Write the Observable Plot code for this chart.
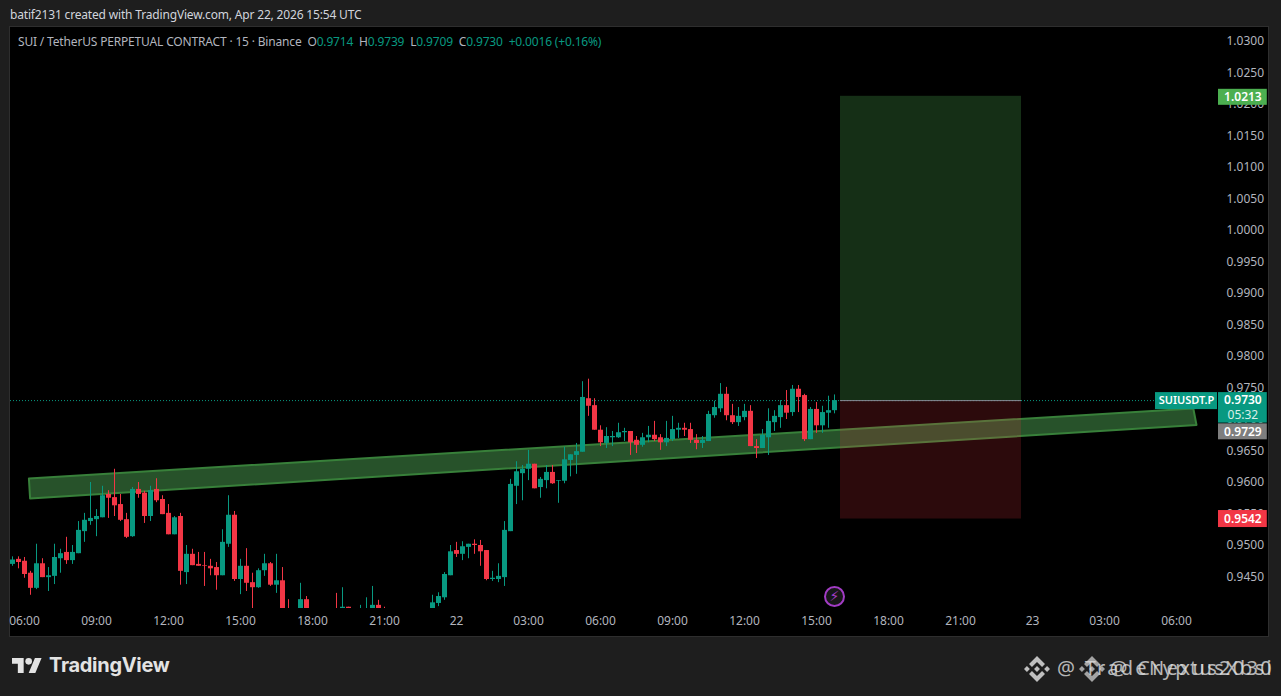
<!DOCTYPE html>
<html><head><meta charset="utf-8">
<script src="https://cdn.jsdelivr.net/npm/d3@7"></script>
<script src="https://cdn.jsdelivr.net/npm/@observablehq/plot@0.6"></script>
<style>
html,body{margin:0;padding:0;background:#1e1e1e;width:1281px;height:696px;overflow:hidden;font-family:"Noto Sans",sans-serif}
.abs{position:absolute;white-space:nowrap}
#panel{left:10px;top:27px;width:1258px;height:609px;background:#000;box-shadow:0 0 0 1px #2e2e2e}
#plot{left:0;top:0}
#made{left:10px;top:6px;font-size:12px;color:#d1d4dc;letter-spacing:-.17px}
#legend{left:18px;top:33px;font-size:12px;color:#b2b5be;letter-spacing:-.17px}
#legend b{font-weight:400;color:#089981}
#brand{left:49px;top:653px;font:700 20px "Inter",sans-serif;color:#e3e3e3;letter-spacing:-.3px}
.wm{font-size:20px;color:#dcdcdc;opacity:.8;letter-spacing:2.3px}
</style></head><body>
<div class="abs" id="panel"></div>
<div class="abs" id="plot"></div>
<div class="abs" id="made">batif2131 created with TradingView.com, Apr 22, 2026 15:54 UTC</div>
<div class="abs" id="legend">SUI / TetherUS PERPETUAL CONTRACT · 15 · Binance&nbsp; O<b>0.9714</b>&nbsp; H<b>0.9739</b>&nbsp; L<b>0.9709</b>&nbsp; C<b>0.9730</b>&nbsp; <b>+0.0016 (+0.16%)</b></div>
<svg class="abs" style="left:12px;top:658px" width="30" height="15" viewBox="0 4 36 18" fill="#e3e3e3"><path d="M14 22H7V11H0V4h14v18zM28 22h-8l7.5-18h8L28 22z"/><circle cx="20" cy="8" r="4"/></svg>
<div class="abs" id="brand">TradingView</div>
<svg class="abs" style="left:1024px;top:656px;opacity:.85" width="26" height="26" viewBox="0 0 126.61 126.61" fill="#dcdcdc"><path d="M38.73 53.2l24.59-24.58 24.6 24.6 14.3-14.31L63.32 0 24.43 38.9zM0 63.31l14.3-14.31 14.31 14.31-14.31 14.3zM38.73 73.41l24.59 24.59 24.6-24.6 14.31 14.29-38.9 38.91-38.91-38.88zM98 63.31l14.3-14.31 14.31 14.3-14.31 14.32zM77.83 63.3L63.32 48.78 52.59 59.51l-1.24 1.23-2.54 2.54 14.51 14.5 14.51-14.47z"/></svg>
<svg class="abs" style="left:1079px;top:656px;opacity:.7" width="26" height="26" viewBox="0 0 126.61 126.61" fill="#dcdcdc"><path d="M38.73 53.2l24.59-24.58 24.6 24.6 14.3-14.31L63.32 0 24.43 38.9zM0 63.31l14.3-14.31 14.31 14.31-14.31 14.3zM38.73 73.41l24.59 24.59 24.6-24.6 14.31 14.29-38.9 38.91-38.91-38.88zM98 63.31l14.3-14.31 14.31 14.3-14.31 14.32zM77.83 63.3L63.32 48.78 52.59 59.51l-1.24 1.23-2.54 2.54 14.51 14.5 14.51-14.47z"/></svg>
<div class="abs wm" style="right:7px;top:654px">@ TradeNexus2030</div>
<div class="abs wm" style="right:7px;top:654px">@ CryptusXbsi</div>
<script>
// Prices in ticks of 0.0001, 15-minute candles from 2026-04-21 05:30 UTC
const tick = 1e-4;
const openTicks = [9470,9478,9475,9456,9432,9471,9449,9451,9479,9489,9476,9487,9522,9538,9541,9544,9581,9576,9565,9541,9514,9589,9583,9546,9589,9573,9551,9517,9546,9457,9486,9470,9468,9467,9465,9452,9502,9548,9446,9467,9441,9433,9460,9471,9437,9444,9396,9385,9385,9414,9392,9388,9386,9390,9395,9390,9402,9395,9388,9392,9396,9405,9396,9390,9382,9375,9380,9372,9384,9388,9392,9408,9417,9452,9492,9486,9497,9502,9500,9492,9446,9446,9449,9522,9594,9614,9621,9629,9592,9603,9616,9602,9602,9635,9643,9648,9733,9722,9683,9662,9671,9671,9679,9681,9667,9659,9671,9675,9671,9663,9668,9683,9686,9684,9667,9662,9665,9706,9717,9740,9706,9695,9703,9713,9657,9654,9671,9695,9703,9722,9711,9748,9738,9668,9716,9690,9710,9714];
const highTicks = [9482,9482,9481,9459,9502,9479,9465,9502,9494,9513,9500,9538,9551,9600,9557,9594,9587,9621,9581,9551,9592,9600,9586,9594,9606,9579,9565,9546,9551,9500,9494,9489,9489,9478,9473,9525,9579,9554,9478,9495,9456,9463,9486,9473,9486,9465,9414,9392,9440,9419,9396,9392,9394,9397,9424,9433,9402,9398,9405,9417,9435,9413,9402,9395,9390,9388,9386,9390,9394,9396,9421,9425,9457,9500,9505,9506,9502,9509,9508,9492,9459,9471,9538,9605,9633,9627,9651,9629,9608,9627,9627,9603,9656,9644,9662,9760,9764,9733,9690,9687,9681,9694,9686,9681,9673,9678,9689,9697,9676,9697,9705,9694,9694,9694,9676,9673,9713,9729,9757,9751,9724,9719,9724,9722,9668,9684,9717,9714,9730,9746,9754,9754,9740,9719,9727,9721,9737,9739];
const lowTicks = [9467,9463,9448,9421,9430,9449,9427,9438,9456,9470,9470,9487,9505,9532,9514,9544,9543,9546,9538,9511,9513,9575,9535,9538,9568,9549,9517,9517,9437,9438,9468,9467,9435,9452,9429,9452,9497,9443,9422,9427,9400,9432,9451,9435,9424,9390,9380,9370,9380,9390,9384,9382,9380,9383,9380,9385,9388,9385,9385,9388,9390,9390,9385,9378,9370,9372,9368,9368,9380,9384,9388,9403,9413,9452,9481,9476,9479,9486,9467,9444,9443,9441,9435,9522,9565,9571,9603,9590,9575,9590,9597,9567,9598,9609,9613,9648,9705,9683,9657,9654,9657,9670,9665,9643,9646,9656,9663,9665,9651,9657,9665,9670,9673,9662,9652,9654,9665,9702,9711,9698,9692,9689,9698,9657,9638,9654,9643,9681,9686,9700,9705,9711,9665,9668,9678,9678,9686,9709];
const closeTicks = [9477,9473,9454,9432,9471,9449,9452,9481,9487,9476,9489,9524,9540,9543,9546,9579,9575,9563,9540,9513,9589,9581,9546,9587,9571,9549,9517,9544,9459,9486,9468,9467,9467,9463,9452,9505,9548,9446,9467,9440,9433,9460,9471,9437,9444,9396,9385,9378,9414,9395,9388,9386,9390,9395,9385,9402,9392,9390,9395,9398,9405,9396,9390,9382,9375,9382,9372,9384,9388,9392,9409,9419,9454,9490,9486,9498,9502,9500,9490,9446,9448,9451,9524,9597,9617,9621,9629,9590,9605,9616,9598,9603,9636,9644,9649,9735,9721,9683,9663,9673,9673,9679,9681,9663,9659,9671,9675,9668,9663,9670,9684,9686,9683,9667,9662,9667,9708,9719,9740,9706,9695,9705,9713,9657,9654,9675,9697,9705,9722,9710,9748,9735,9668,9716,9690,9711,9714,9730];
const candleStart = Date.UTC(2026,3,21,5,30);
const priceTicks = [1.03,1.025,1.02,1.015,1.01,1.005,1,0.995,0.99,0.985,0.98,0.975,0.97,0.965,0.96,0.955,0.95,0.945];
const channelPoints = [
  {t:"2026-04-21T06:11Z",p:0.96063},{t:"2026-04-23T06:42Z",p:0.97175},
  {t:"2026-04-23T06:50Z",p:0.96913},{t:"2026-04-21T06:14Z",p:0.95746}];
const entry = 0.9730, target = 1.0213, stop = 0.9542, marker = 0.9729;
const boxFrom = new Date("2026-04-22T16:00Z"), boxTo = new Date("2026-04-22T23:32:30Z");
const axisEdge = new Date("2026-04-23T07:45Z"), axisLabel = new Date("2026-04-23T08:05Z"), panelEnd = new Date("2026-04-23T09:47Z");
const tagCenter = new Date("2026-04-23T08:46Z");
const up = "#089981", down = "#f23645";

const candles = openTicks.map((o,i)=>({
  t:new Date(candleStart+i*9e5), o:o*tick, h:highTicks[i]*tick, l:lowTicks[i]*tick, c:closeTicks[i]*tick,
  col:closeTicks[i]>=o?up:down}));
const xTicks = d3.utcHour.range(new Date("2026-04-21T06:00Z"),new Date("2026-04-23T06:01Z"),3);
const xFmt = d=> d.getUTCHours()===0 ? String(d.getUTCDate()) : d3.utcFormat("%H:%M")(d);
const channel = channelPoints.map(d=>({t:new Date(d.t),p:d.p}));
const priceFmt = d3.format(".4f");
const tagFont = {fontSize:12,fontWeight:600,fill:"#fff"};
const tag = (p,fill,top,bot)=>Plot.rect([p],{x1:()=>axisEdge,x2:()=>panelEnd,y1:d=>d,y2:d=>d,fill,insetTop:top,insetBottom:bot});

const chart = Plot.plot({
  width:1281,height:696,marginLeft:10,marginRight:13,marginTop:28,marginBottom:88,
  style:{background:"transparent",fontFamily:'"Noto Sans",sans-serif',fontSize:"12px",color:"#b2b5be"},
  x:{type:"utc",domain:[new Date("2026-04-21T05:25Z"),new Date("2026-04-23T09:50Z")],range:[10,1268],axis:null},
  y:{type:"linear",domain:[0.94,1.03+13/6300],range:[608,28],axis:null},
  marks:[
    Plot.ruleY([entry],{x1:()=>new Date("2026-04-21T05:25Z"),x2:()=>new Date("2026-04-23T05:07Z"),stroke:up,strokeDasharray:"1 2"}),
    Plot.line(channel,{x:"t",y:"p",curve:"linear-closed",fill:"#27522a",stroke:"#38803a",strokeWidth:2}),
    Plot.rect([0],{x1:()=>boxFrom,x2:()=>boxTo,y1:()=>entry,y2:()=>target,fill:"#4caf50",fillOpacity:.27}),
    Plot.rect([0],{x1:()=>boxFrom,x2:()=>boxTo,y1:()=>stop,y2:()=>entry,fill:"#f23645",fillOpacity:.18}),
    Plot.ruleY([entry],{x1:()=>boxFrom,x2:()=>boxTo,stroke:"#858993",strokeWidth:1}),
    Plot.ruleX(candles,{x:"t",y1:"l",y2:"h",stroke:"col",clip:true}),
    Plot.ruleX(candles,{x:"t",y1:"o",y2:"c",stroke:"col",strokeWidth:5,clip:true}),
    Plot.axisX({ticks:xTicks,tickFormat:xFmt,tickSize:0,tickPadding:8,anchor:"bottom",fill:"#b2b5be",fontSize:12,label:null}),
    Plot.text(priceTicks,{x:()=>axisLabel,y:d=>d,text:priceFmt,textAnchor:"start",fill:"#b2b5be",fontSize:12}),
    tag(target,"#4caf50",-7,-9),
    Plot.text([target],{x:()=>tagCenter,y:d=>d,dy:1,text:priceFmt,...tagFont}),
    tag(stop,down,-8.5,-8.5),
    Plot.text([stop],{x:()=>tagCenter,y:d=>d,text:priceFmt,...tagFont}),
    tag(entry,up,-8,-22.5),
    Plot.text([entry],{x:()=>tagCenter,y:d=>d,text:priceFmt,...tagFont}),
    Plot.text(["05:32"],{x:()=>tagCenter,y:()=>entry,dy:15,text:d=>d,fill:"#d8efe9",fontSize:12}),
    tag(marker,"#7e7e7e",22.6,-38.6),
    Plot.text([marker],{x:()=>tagCenter,y:d=>d,dy:30.5,text:priceFmt,...tagFont}),
    Plot.rect([entry],{x1:()=>new Date("2026-04-23T05:07:30Z"),x2:()=>new Date("2026-04-23T07:42:30Z"),y1:d=>d,y2:d=>d,fill:up,insetTop:-8,insetBottom:-9}),
    Plot.text(["SUIUSDT.P"],{x:()=>new Date("2026-04-23T06:25Z"),y:()=>entry,text:d=>d,fontSize:11,fontWeight:600,fill:"#fff"}),
    Plot.dot([0.9419],{x:()=>new Date("2026-04-22T15:45Z"),y:d=>d,r:9.5,stroke:"#a23cc4",strokeWidth:2,fill:"#171717"}),
    Plot.text(["⚡"],{x:()=>new Date("2026-04-22T15:45Z"),y:()=>0.9419,text:d=>d,fill:"#a23cc4",fontSize:14,fontFamily:"DejaVu Sans"})
  ]
});
document.getElementById("plot").append(chart);
</script>
</body></html>
